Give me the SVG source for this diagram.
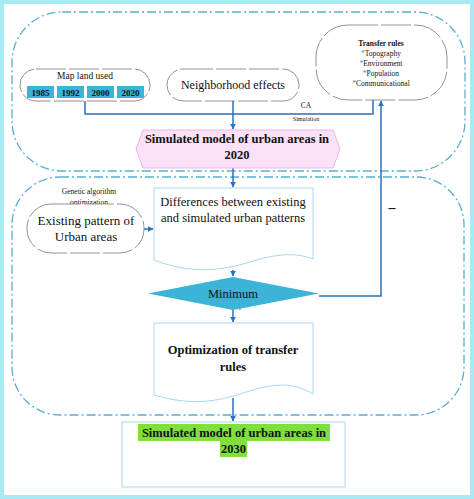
<svg xmlns="http://www.w3.org/2000/svg" width="474" height="499" viewBox="0 0 474 499">
<defs>
<style>
text{font-family:"Liberation Serif","Times New Roman",serif;fill:#111;text-anchor:middle}
.region{fill:none;stroke:#5aaed0;stroke-width:1.3;stroke-dasharray:9 3 2 3}
.pill{fill:#fff;stroke:#777;stroke-width:0.8;stroke-dasharray:30 3}
.doc{fill:#fff;stroke:#a8d8ea;stroke-width:1}
.conn{fill:none;stroke:#2a72bf;stroke-width:1.5}
.yr{fill:#3bb4d8}
.b{font-weight:bold}
.ast{fill:#3a8fd0}
</style>
<marker id="ah" viewBox="0 0 10 10" refX="9" refY="5" markerWidth="6" markerHeight="6" orient="auto-start-reverse" markerUnits="userSpaceOnUse">
<path d="M0,0 L10,5 L0,10 z" fill="#2a72bf"/>
</marker>
</defs>
<rect x="0" y="0" width="474" height="499" fill="#fff"/>
<rect x="2" y="2" width="470" height="495" fill="none" stroke="#a6eaf4" stroke-width="4"/>

<g id="regions">
<rect class="region" x="12" y="12" width="453" height="159" rx="50" ry="50"/>
<rect class="region" x="12" y="177" width="452" height="238" rx="48" ry="48"/>
</g>

<g id="connectors">
<path class="conn" d="M85,101 V114 H373 V100"/>
<path class="conn" d="M233,101 V129" marker-end="url(#ah)"/>
<path class="conn" d="M233,168 V187" marker-end="url(#ah)"/>
<path class="conn" d="M144,229 H153" marker-end="url(#ah)"/>
<path class="conn" d="M233,270 V276" marker-end="url(#ah)"/>
<path class="conn" d="M233,310 V322" marker-end="url(#ah)"/>
<path class="conn" d="M319,296 H381 V101" marker-end="url(#ah)"/>
<path class="conn" d="M233,398 V421" marker-end="url(#ah)"/>
<text x="306" y="108" font-size="7.5">CA</text>
<text x="306" y="121" font-size="6">Simulation</text>
<text x="392" y="212" font-size="14" class="b">–</text>
<text x="240" y="312" font-size="12">+</text>
</g>

<g id="map-land">
<rect class="pill" x="20" y="69" width="130" height="32" rx="16"/>
<text x="85" y="79" font-size="9.5">Map land used</text>
<rect class="yr" x="27" y="86" width="27" height="12"/>
<rect class="yr" x="57" y="86" width="27" height="12"/>
<rect class="yr" x="87" y="86" width="27" height="12"/>
<rect class="yr" x="117" y="86" width="27" height="12"/>
<text class="b" x="40.5" y="95.5" font-size="9">1985</text>
<text class="b" x="70.5" y="95.5" font-size="9">1992</text>
<text class="b" x="100.5" y="95.5" font-size="9">2000</text>
<text class="b" x="130.5" y="95.5" font-size="9">2020</text>
</g>

<g id="neighborhood">
<rect class="pill" x="167" y="69" width="132" height="32" rx="16"/>
<text x="233" y="88.5" font-size="12">Neighborhood effects</text>
</g>

<g id="transfer-rules">
<rect class="pill" x="316" y="25" width="131" height="75" rx="32"/>
<text class="b" x="381" y="46" font-size="7.5">Transfer rules</text>
<text x="381" y="56" font-size="7.5"><tspan class="ast">*</tspan>Topography</text>
<text x="381" y="66" font-size="7.5"><tspan class="ast">*</tspan>Environment</text>
<text x="381" y="76" font-size="7.5"><tspan class="ast">*</tspan>Population</text>
<text x="381" y="86" font-size="7.5"><tspan class="ast">*</tspan>Communicational</text>
</g>

<g id="sim-2020">
<polygon points="143,130 333,130 340,149 333,168 143,168 136,149" fill="#fbe0f6" stroke="#efb4e2" stroke-width="1"/>
<text class="b" x="237" y="143" font-size="12.5">Simulated model of urban areas in</text>
<text class="b" x="237" y="159" font-size="12.5">2020</text>
</g>

<g id="ga-label">
<text x="89" y="194" font-size="7.5">Genetic algorithm</text>
<text x="89" y="205" font-size="7.5">optimization</text>
</g>

<g id="existing">
<rect class="pill" x="27" y="204" width="117" height="49" rx="24"/>
<text x="86" y="225" font-size="13">Existing pattern of</text>
<text x="86" y="241" font-size="13">Urban areas</text>
</g>

<g id="differences">
<path class="doc" d="M154,188 H313 V259 C295,252 275,254 250,262 C220,271 190,274 154,260 Z"/>
<text x="233" y="206" font-size="12.5">Differences between existing</text>
<text x="233" y="222" font-size="12.5">and simulated urban patterns</text>
</g>

<g id="minimum">
<polygon points="148,293.5 233,277 319,293.5 233,310" fill="#3bb4d8"/>
<text x="233" y="297.5" font-size="12.5">Minimum</text>
</g>

<g id="optimization">
<path class="doc" d="M154,323 H313 V394 C300,386 285,382 260,388 C230,396 205,410 154,395 Z"/>
<text class="b" x="233" y="354" font-size="12.5">Optimization of transfer</text>
<text class="b" x="233" y="371" font-size="12.5">rules</text>
</g>

<g id="sim-2030">
<rect x="122" y="422" width="223" height="65" fill="#fff" stroke="#a8d8ea" stroke-width="1"/>
<rect x="138" y="424" width="192" height="17" fill="#7fe03c"/>
<rect x="220" y="441" width="27" height="16" fill="#7fe03c"/>
<text class="b" x="234" y="437" font-size="12.5">Simulated model of urban areas in</text>
<text class="b" x="233.5" y="453" font-size="12.5">2030</text>
</g>
</svg>
